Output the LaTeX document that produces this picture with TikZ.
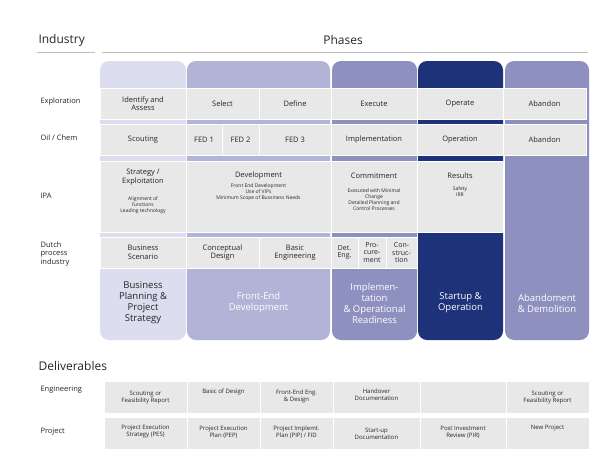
\documentclass[tikz,border=0pt]{standalone}
\usepackage{fontspec}
\setmainfont{Open Sans}
\begin{document}
\begin{tikzpicture}[x=1pt,y=-1pt,
  cell/.style={draw=white,line width=1pt,fill=cellgray},
  lbl/.style={align=center,font=\fontsize{7.5}{8.5}\selectfont,text=black!85},
  small/.style={align=center,font=\fontsize{5}{6}\selectfont,text=black!85},
  big/.style={align=center,font=\fontsize{9.5}{11}\selectfont},
  side/.style={anchor=west,align=left,font=\fontsize{7.5}{8.5}\selectfont,text=black!85},
  title/.style={anchor=west,font=\fontsize{12}{14}\selectfont,text=black!85}]
\definecolor{cellgray}{HTML}{E8E8E8}
\definecolor{cA}{HTML}{DCDDEE}
\definecolor{cB}{HTML}{B1B3D7}
\definecolor{cC}{HTML}{8E90C0}
\definecolor{cD}{HTML}{1D3278}
\useasboundingbox[fill=white] (0,0) rectangle (609,466);
% headers
\node[title] (ind) at (35,40) {Industry};
\node[title] (ph) at (343,40) {}; \node[font=\fontsize{12}{14}\selectfont,text=black!85] (phases) at (343,40) {Phases};
\draw[black!25,line width=0.8pt] (37,52) -- (95,52);
\draw[black!25,line width=0.8pt] (102,52) -- (588,52);
% columns
\fill[cA,rounded corners=9pt] (100,61) rectangle (186,340);
\fill[cB,rounded corners=9pt] (187,61) rectangle (330,340);
\fill[cC,rounded corners=9pt] (332,61) rectangle (417,340);
\fill[cD,rounded corners=9pt] (418,61) rectangle (503,340);
\fill[cC,rounded corners=9pt] (505,61) rectangle (589,340);
% row 1
\draw[cell] (100,88) rectangle (186,119); \node[lbl] (r1a) at (143,103.5) {Identify and\\Assess};
\draw[cell] (186,88) rectangle (259,119); \node[lbl] (r1b) at (222.5,103.5) {Select};
\draw[cell] (259,88) rectangle (331,119); \node[lbl] (r1c) at (295,103.5) {Define};
\draw[cell] (331,88) rectangle (417,119); \node[lbl] (r1d) at (374,103.5) {Execute};
\draw[cell] (417,88) rectangle (503,119); \node[lbl] (r1e) at (460,103.5) {Operate};
\draw[cell] (503,88) rectangle (586,119); \node[lbl] (r1f) at (544.5,103.5) {Abandon};
% row 2
\draw[cell] (100,124) rectangle (186,155); \node[lbl] (r2a) at (143,139.5) {Scouting};
\draw[cell] (186,124) rectangle (222,155); \node[lbl] (r2b) at (204,139.5) {FED 1};
\draw[cell] (222,124) rectangle (259,155); \node[lbl] (r2c) at (240.5,139.5) {FED 2};
\draw[cell] (259,124) rectangle (331,155); \node[lbl] (r2d) at (295,139.5) {FED 3};
\draw[cell] (331,124) rectangle (417,155); \node[lbl] (r2e) at (374,139.5) {Implementation};
\draw[cell] (417,124) rectangle (503,155); \node[lbl] (r2f) at (460,139.5) {Operation};
\draw[cell] (503,124) rectangle (586,155); \node[lbl] (r2g) at (544.5,139.5) {Abandon};
% row 3
\draw[cell] (100,161) rectangle (186,232);
\node[lbl] (r3a) at (143,177) {Strategy /\\Exploitation};
\node[small] (r3as) at (143,205) {Alignment of\\functions\\Leading technology};
\draw[cell] (186,161) rectangle (331,232);
\node[lbl] (r3b) at (258.5,176) {Development};
\node[small] (r3bs) at (258.5,192) {Front End Development\\Use of VIPs\\Minimum Scope of Bussiness Needs};
\draw[cell] (331,161) rectangle (417,232);
\node[lbl] (r3c) at (374,176) {Commitment};
\node[small] (r3cs) at (374,200) {Executed with Minimal\\Change\\Detailed Planning and\\Control Processes};
\draw[cell] (417,161) rectangle (503,232);
\node[lbl] (r3d) at (460,176) {Results};
\node[small] (r3ds) at (460,192) {Safety\\IRR};
% row 4
\draw[cell] (100,237) rectangle (186,268); \node[lbl] (r4a) at (143,252.5) {Business\\Scenario};
\draw[cell] (186,237) rectangle (259,268); \node[lbl] (r4b) at (222.5,252.5) {Conceptual\\Design};
\draw[cell] (259,237) rectangle (331,268); \node[lbl] (r4c) at (295,252.5) {Basic\\Engineering};
\draw[cell] (331,237) rectangle (358,268); \node[lbl,font=\fontsize{7}{7.5}\selectfont] (r4d) at (344.5,252.5) {Det.\\Eng.};
\draw[cell] (358,237) rectangle (386,268); \node[lbl,font=\fontsize{7}{7.5}\selectfont] (r4e) at (372,252.5) {Pro-\\cure-\\ment};
\draw[cell] (386,237) rectangle (417,268); \node[lbl,font=\fontsize{7}{7.5}\selectfont] (r4f) at (401.5,252.5) {Con-\\struc-\\tion};
% bottom labels
\node[big,text=black!85] (b1) at (143,303) {Business\\Planning \&\\Project\\Strategy};
\node[big,text=white] (b2) at (258.5,303) {Front-End\\Development};
\node[big,text=white] (b3) at (374.5,303) {Implemen-\\tation\\\& Operational\\Readiness};
\node[big,text=white] (b4) at (460.5,303) {Startup \&\\Operation};
\node[big,text=white] (b5) at (547,303) {Abandoment\\\& Demolition};
% side labels
\node[side] (s1) at (37,102) {Exploration};
\node[side] (s2) at (37,138) {Oil / Chem};
\node[side] (s3) at (37,196) {IPA};
\node[side] (s4) at (37,254) {Dutch\\process\\industry};
% deliverables
\node[title] (del) at (35,366) {Deliverables};
\node[side] (e0) at (37,390) {Engineering};
\node[side] (p0) at (37,432) {Project};
\draw[cell] (104,381) rectangle (187,413); \node[small,font=\fontsize{6}{7}\selectfont] (e1) at (145.5,398) {Scouting or\\Feasibility Report};
\draw[cell] (187,381) rectangle (260,413); \node[small,font=\fontsize{6}{7}\selectfont] (e2) at (223.5,392) {Basic of Design};
\draw[cell] (260,381) rectangle (333,413); \node[small,font=\fontsize{6}{7}\selectfont] (e3) at (296.5,396) {Front-End Eng.\\\& Design};
\draw[cell] (333,381) rectangle (420,413); \node[small,font=\fontsize{6}{7}\selectfont] (e4) at (376.5,395) {Handover\\Documentation};
\draw[cell] (420,381) rectangle (506,413);
\draw[cell] (506,381) rectangle (589,413); \node[small,font=\fontsize{6}{7}\selectfont] (e6) at (547.5,398) {Scouting or\\Feasibility Report};
\draw[cell] (104,417) rectangle (187,449); \node[small,font=\fontsize{6}{7}\selectfont] (p1) at (145.5,432) {Project Execution\\Strategy (PES)};
\draw[cell] (187,417) rectangle (260,449); \node[small,font=\fontsize{6}{7}\selectfont] (p2) at (223.5,432) {Project Execution\\Plan (PEP)};
\draw[cell] (260,417) rectangle (333,449); \node[small,font=\fontsize{6}{7}\selectfont] (p3) at (296.5,432) {Project Implemt.\\Plan (PIP) / FID};
\draw[cell] (333,417) rectangle (420,449); \node[small,font=\fontsize{6}{7}\selectfont] (p4) at (376.5,434) {Start-up\\Documentation};
\draw[cell] (420,417) rectangle (506,449); \node[small,font=\fontsize{6}{7}\selectfont] (p5) at (463,432) {Post Investment\\Review (PIR)};
\draw[cell] (506,417) rectangle (589,449); \node[small,font=\fontsize{6}{7}\selectfont] (p6) at (547.5,428) {New Project};
\end{tikzpicture}
\end{document}
